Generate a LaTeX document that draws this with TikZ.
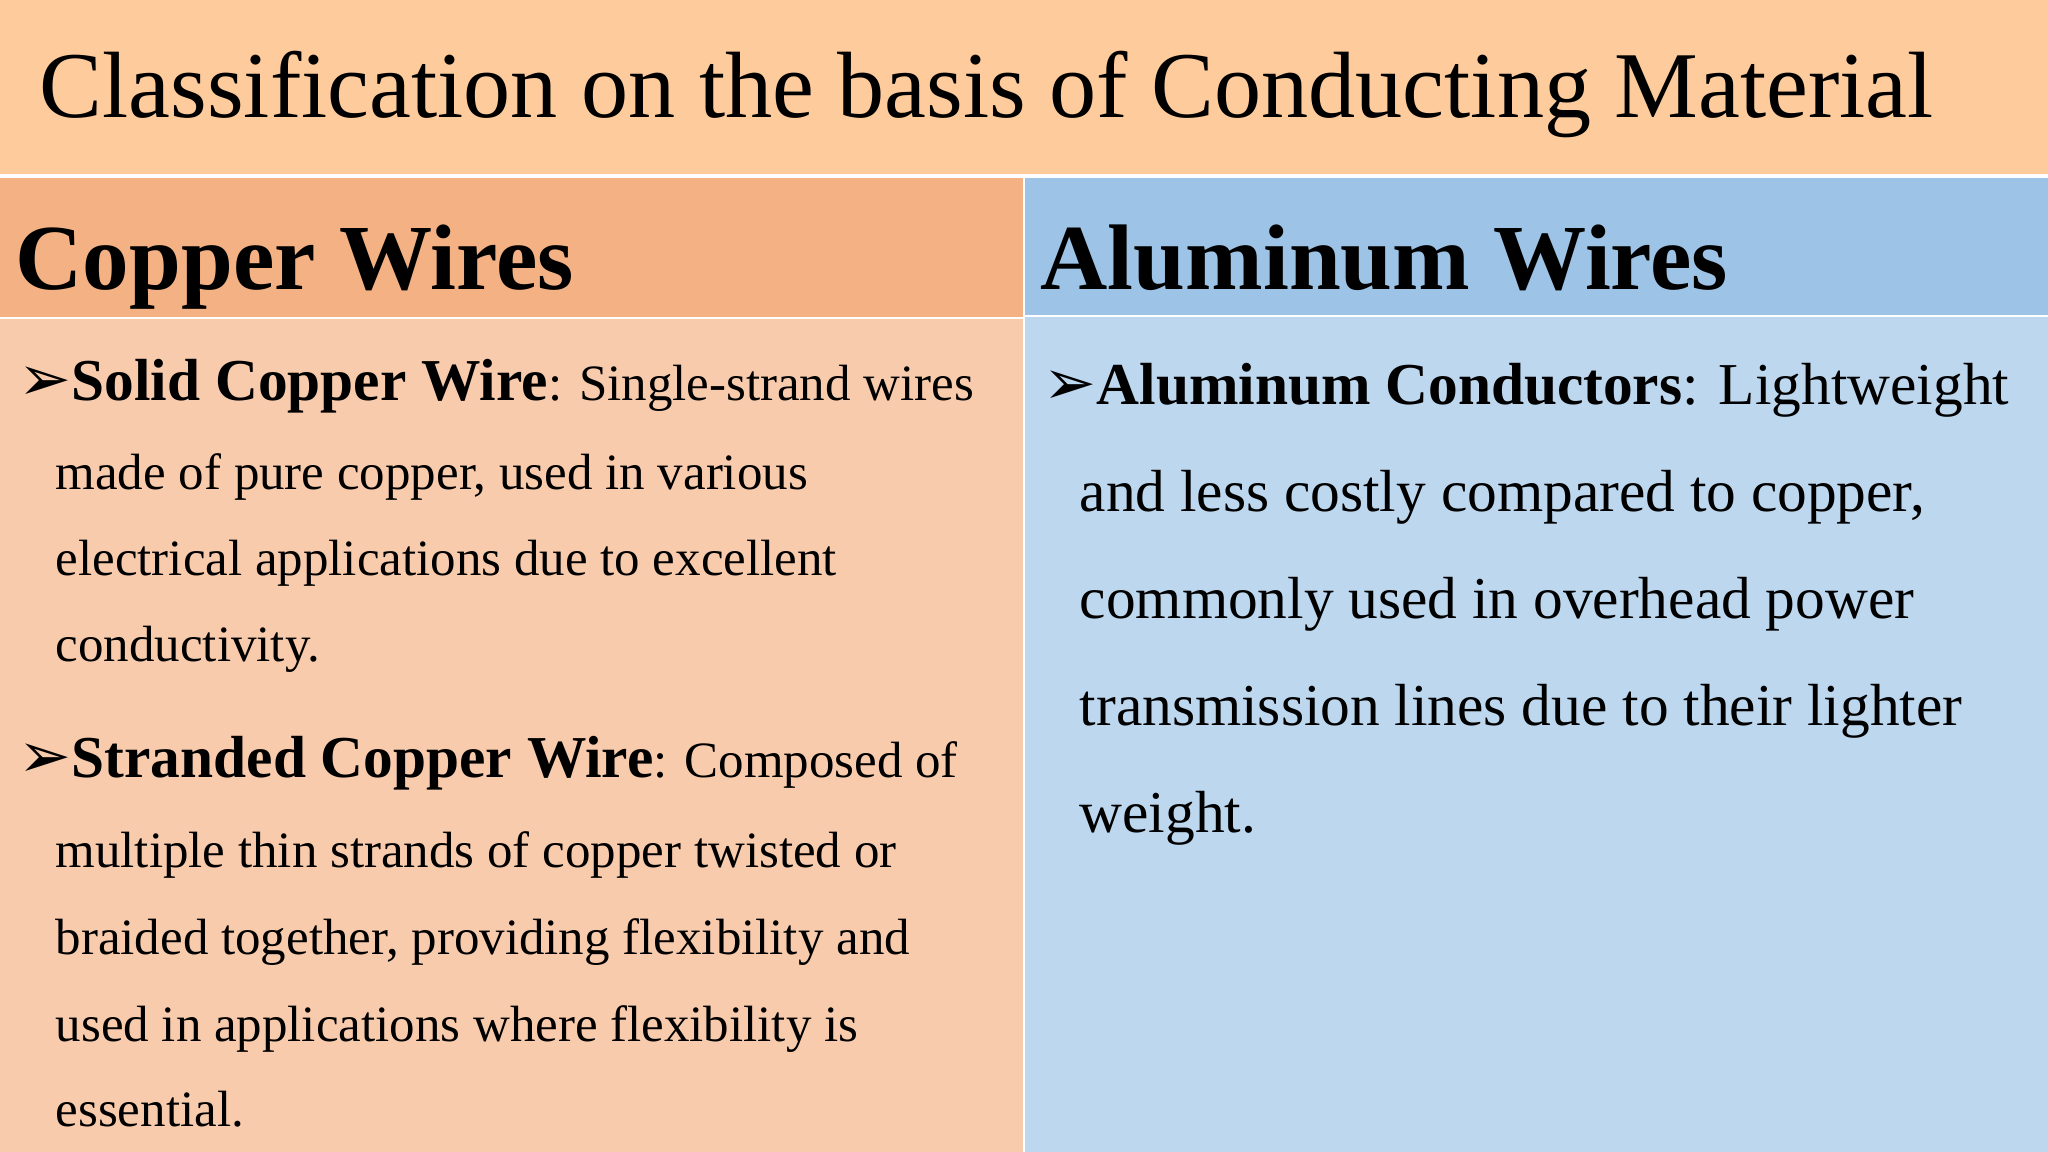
\documentclass[tikz,border=0pt]{standalone}
\usepackage{fontspec}
\setmainfont{Liberation Serif}
\newfontfamily\djv{DejaVu Sans}
\definecolor{titlebg}{HTML}{FDCB9C}
\definecolor{cuhead}{HTML}{F4B183}
\definecolor{cubody}{HTML}{F8CBAD}
\definecolor{alhead}{HTML}{9DC3E6}
\definecolor{albody}{HTML}{BDD7EE}
\tikzset{x=0.1mm,y=-0.1mm,
 ln/.style={anchor=base west,inner sep=0pt,font=\fontsize{14.5pt}{16pt}\selectfont},
 rn/.style={anchor=base west,inner sep=0pt,font=\fontsize{16.9pt}{18pt}\selectfont},
 hd/.style={anchor=base west,inner sep=0pt,font=\fontsize{26.5pt}{30pt}\selectfont\bfseries}}
\newcommand{\bul}{{\djv\fontsize{18pt}{18pt}\selectfont\char"27A2}}
\newcommand{\lb}[1]{{\fontsize{16.9pt}{18pt}\selectfont\bfseries #1}}
\begin{document}
\begin{tikzpicture}
\useasboundingbox (0,0) rectangle (2048,1152);
\fill[white] (0,0) rectangle (2048,1152);
\fill[titlebg] (0,0) rectangle (2048,174);
\fill[cuhead] (0,178) rectangle (1023,317);
\fill[cubody] (0,319) rectangle (1023,1152);
\fill[alhead] (1025,178) rectangle (2048,315);
\fill[albody] (1025,317) rectangle (2048,1152);
\node[anchor=base west,inner sep=0pt,font=\fontsize{26.8pt}{30pt}\selectfont] (title) at (39,118) {Classification on the basis of Conducting Material};
\node[hd] (cu) at (15,290) {Copper Wires};
\node[hd] (al) at (1040,290) {Aluminum Wires};
\node[ln] (l1) at (18,401) {\bul\lb{Solid Copper Wire}: Single-strand wires};
\node[ln] (l2) at (55,490) {made of pure copper, used in various};
\node[ln] (l3) at (55,576) {electrical applications due to excellent};
\node[ln] (l4) at (55,662) {conductivity.};
\node[ln] (l5) at (18,778) {\bul\lb{Stranded Copper Wire}: Composed of};
\node[ln] (l6) at (55,868) {multiple thin strands of copper twisted or};
\node[ln] (l7) at (55,955) {braided together, providing flexibility and};
\node[ln] (l8) at (55,1041) {used in applications where flexibility is};
\node[ln] (l9) at (55,1127) {essential.};
\node[rn] (r1) at (1043,405) {\bul\textbf{Aluminum Conductors}: Lightweight};
\node[rn] (r2) at (1079,512) {and less costly compared to copper,};
\node[rn] (r3) at (1079,619) {commonly used in overhead power};
\node[rn] (r4) at (1079,726) {transmission lines due to their lighter};
\node[rn] (r5) at (1079,833) {weight.};
\end{tikzpicture}
\end{document}
